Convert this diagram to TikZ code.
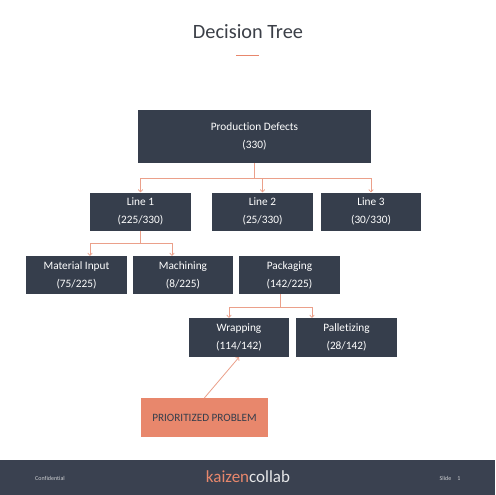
\documentclass[tikz,border=0pt]{standalone}
\usepackage{fontspec}
\setmainfont{Carlito}[Ligatures=NoCommon]
\usepackage{tikz}
\usetikzlibrary{arrows.meta}

\definecolor{slate}{HTML}{363E4C}
\definecolor{footbar}{HTML}{3A4150}
\definecolor{salmon}{HTML}{E8876C}
\definecolor{linkcol}{HTML}{EBA08A}
\definecolor{titlecol}{HTML}{3B3F47}

\begin{document}
\begin{tikzpicture}[x=1pt,y=-1pt,
		box/.style={fill=slate,text=white,align=center,inner sep=0pt,
			font=\fontsize{11.3}{18}\selectfont},
		link/.style={draw=linkcol,line width=0.8pt,-{To[length=3pt,width=5pt]}},
		plain/.style={draw=linkcol,line width=0.8pt}]

		\useasboundingbox[fill=white] (0,0) rectangle (495,495);

		\node[text=titlecol,font=\fontsize{20.3}{24}\selectfont] (title) at (248,32) {Decision Tree};
		\draw[draw=salmon,line width=1pt] (236,56) -- (259,56);

		\node[box,minimum width=233pt,minimum height=53pt] (prod)  at (254.5,136.5) {Production Defects\\(330)};
		\node[box,minimum width=101pt,minimum height=38pt] (line1) at (140.5,211.5) {Line 1\\(225/330)};
		\node[box,minimum width=101pt,minimum height=38pt] (line2) at (262.5,211.5) {Line 2\\(25/330)};
		\node[box,minimum width=100pt,minimum height=38pt] (line3) at (371,211.5)   {Line 3\\(30/330)};
		\node[box,minimum width=101pt,minimum height=38pt] (matin) at (76.5,275)    {Material Input\\(75/225)};
		\node[box,minimum width=100pt,minimum height=38pt] (mach)  at (183,275)     {Machining\\(8/225)};
		\node[box,minimum width=101pt,minimum height=38pt] (pack)  at (289.5,275)   {Packaging\\(142/225)};
		\node[box,minimum width=100pt,minimum height=39pt] (wrap)  at (239,337.5)   {Wrapping\\(114/142)};
		\node[box,minimum width=101pt,minimum height=39pt] (pall)  at (346.5,337.5) {Palletizing\\(28/142)};
		\node[fill=salmon,text=slate,minimum width=127pt,minimum height=39pt,inner sep=0pt,
			font=\fontsize{11.2}{13}\selectfont] (prio) at (204.5,417.5) {PRIORITIZED PROBLEM};

		% level 1
		\coordinate (j0) at (254.5,178);
		\path[plain] (prod.south) -- (j0);
		\path[link] (j0) -| (line1.north);
		\path[link] (j0) -| (line2.north);
		\path[link] (j0) -| (line3.north);

		% level 2
		\coordinate (j1) at (140.5,243);
		\path[plain] (line1.south) -- (j1);
		\path[link] (j1) -| ([xshift=13.5pt]matin.north);
		\path[link] (j1) -| ([xshift=-11pt]mach.north);

		% level 3
		\coordinate (j2) at (280,307);
		\path[plain] ([xshift=-9.5pt]pack.south) -- (j2);
		\path[link] (j2) -| ([xshift=-10pt]wrap.north);
		\path[link] (j2) -| ([xshift=-34.5pt]pall.north);

		\path[link] (prio.north) -- (wrap.south);

		% footer
		\fill[footbar] (0,460) rectangle (495,495);
		\node[text=white!75!footbar,font=\fontsize{6}{7}\selectfont] (conf) at (50,478) {Confidential};
		\node[font=\fontsize{17}{20}\selectfont] (logo) at (248,477)
			{\textcolor{salmon}{kaizen}\textcolor{white!88!footbar}{collab}};
		\node[text=white!75!footbar,font=\fontsize{6}{7}\selectfont] (slide) at (450,478) {Slide\quad 1};

\end{tikzpicture}
\end{document}
